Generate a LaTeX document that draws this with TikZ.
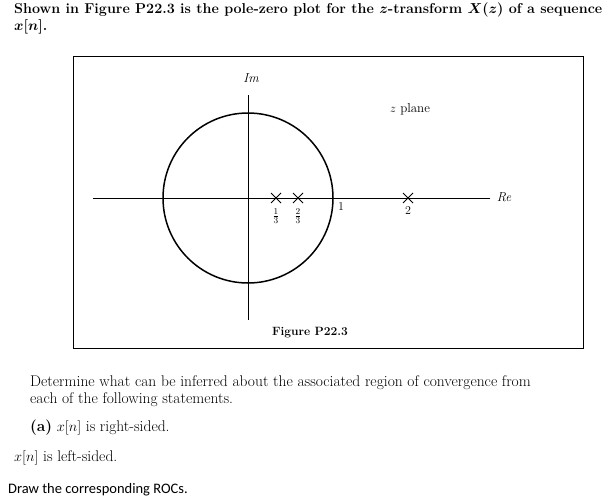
\documentclass[tikz,border=0pt]{standalone}
\usepackage{fontspec}
\usepackage{bm}
\newfontfamily\calib{Carlito}
\begin{document}
\begin{tikzpicture}[x=1pt,y=-1pt]
\tikzset{txt/.style={anchor=west,inner sep=0pt,font=\fontsize{15.5}{18}\selectfont},
  ttl/.style={anchor=west,inner sep=0pt,font=\bfseries\fontsize{14.3}{17}\selectfont},
  lbl/.style={inner sep=0pt,font=\fontsize{13}{15}\selectfont},
  pole/.style={line width=0.9pt}}
\useasboundingbox (0,0) rectangle (616,503);
\node[ttl] (t1) at (14,10) {Shown in Figure P22.3 is the pole-zero plot for the $\bm{z}$-transform $\bm{X(z)}$ of a sequence};
\node[ttl] (t2) at (14,27) {$\bm{x[n]}$.};
\draw[line width=0.8pt] (73,56) rectangle (583,348);
\coordinate (o) at (248,198);
\draw[line width=0.6pt] (93,198) -- (490,198);
\draw[line width=0.6pt] (248,95) -- (248,320);
\draw[line width=1.5pt] (o) circle[radius=85];
\foreach \x in {276,298,408}{
  \draw[pole] (\x-5,193) -- (\x+5,203) (\x-5,203) -- (\x+5,193);
}
\node[lbl] (p1) at (276,216) {$\frac{1}{3}$};
\node[lbl] (p2) at (298,216) {$\frac{2}{3}$};
\node[lbl] (p3) at (408,211) {$2$};
\node[lbl] (one) at (341,207) {$1$};
\node[lbl] (re) at (504,197) {\itshape Re};
\node[lbl] (im) at (251,78) {\itshape Im};
\node[lbl] (zp) at (410,109) {$z$ plane};
\node[lbl,font=\bfseries\fontsize{12}{14}\selectfont] (fig) at (310,333) {Figure P22.3};
\node[txt] (d1) at (30,383) {Determine what can be inferred about the associated region of convergence from};
\node[txt] (d2) at (30,400) {each of the following statements.};
\node[txt] (a) at (30,428) {\textbf{(a)} $x[n]$ is right-sided.};
\node[txt] (b) at (14,458) {$x[n]$ is left-sided.};
\node[txt,font=\calib\fontsize{14.5}{17}\selectfont] (c) at (8,490) {Draw the corresponding ROCs.};
\end{tikzpicture}
\end{document}
